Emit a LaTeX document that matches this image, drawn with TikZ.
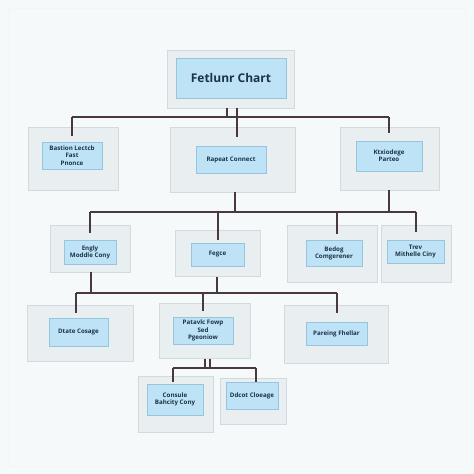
\documentclass[tikz,border=0pt]{standalone}
\usepackage{fontspec}
\setmainfont{Open Sans}
\definecolor{bgc}{HTML}{F6F9FA}
\definecolor{outfill}{HTML}{E9EEF1}
\definecolor{outdraw}{HTML}{D2DADF}
\definecolor{infill}{HTML}{BEE3F6}
\definecolor{indraw}{HTML}{96C6DD}
\definecolor{txt}{HTML}{1C3247}
\definecolor{wire}{HTML}{4A3840}
\tikzset{
  outerbox/.style={draw=outdraw, fill=outfill, line width=0.9pt, inner sep=0pt},
  innerbox/.style={draw=indraw, fill=infill, line width=0.7pt, inner sep=1pt, align=center,
     text=txt, font=\fontsize{6.2}{7.2}\selectfont\bfseries},
  wireline/.style={draw=wire, line width=1.3pt},
  thickwire/.style={draw=wire, line width=2.6pt}
}
\newcommand\boxpair[9]{%
  \node[outerbox, minimum width=#4pt, minimum height=#5pt] (#1o) at (#2,#3) {};
  \node[innerbox, minimum width=#8pt, minimum height=#9pt] (#1) at (#6,#7)}
\begin{document}
\begin{tikzpicture}[x=1pt,y=-1pt]
\useasboundingbox (0,0) rectangle (474,474);
\fill[bgc] (0,0) rectangle (474,474);
\draw[draw=white!92!gray, line width=0.8pt] (8,8) rectangle (466,466);
% top
\node[outerbox, minimum width=127pt, minimum height=58pt] (topo) at (230.5,79) {};
\node[innerbox, minimum width=110pt, minimum height=40pt, font=\fontsize{12}{14}\selectfont\bfseries] (top) at (231,78) {Fetlunr Chart};
% row 1
\boxpair{la}{73}{158.5}{90}{63}{72}{155.5}{60}{27}{Bastion Lectcb\\Fast\\Pnonce};
\boxpair{ma}{232.5}{159.5}{125}{65}{231}{159.5}{70}{27}{Rapeat Connect};
\boxpair{ra}{389.5}{158.5}{99}{63}{389}{156}{66}{30}{Ktxiodege\\Parteo};
% row 2
\boxpair{a}{90}{248.5}{80}{47}{90}{252}{52}{24}{Engly\\Moddle Cony};
\boxpair{b}{217.5}{253.5}{85}{46}{217.5}{254.5}{53}{23}{Fegce};
\boxpair{c}{332}{253.5}{90}{57}{334}{253.5}{56}{26}{Bedog\\Comgerener};
\boxpair{d}{416.5}{253.5}{70}{57}{415.5}{251.5}{57}{23}{Trev\\Mithelle Ciny};
% row 3
\boxpair{e}{80}{333}{106}{56}{78.5}{332}{59}{28}{Dtate Cosage};
\boxpair{f}{204.5}{331}{91}{55}{203}{330.5}{60}{27}{Patavlc Fowp\\Sed\\Pgeoniow};
\boxpair{g}{336}{334}{104}{58}{336.5}{333.5}{61}{23}{Pareing Fhellar};
% row 4
\boxpair{h}{175.5}{404}{75}{56}{175}{399.5}{56}{31}{Consule\\Bahcity Cony};
\boxpair{i}{253}{401}{66}{46}{252}{395.5}{52}{27}{Ddcot Cloeage};
% rails
\coordinate (r1) at (0,117);
\coordinate (r2) at (0,212);
\coordinate (r3) at (0,293);
\coordinate (r4) at (0,368);
% top -> row 1
\draw[wireline] (topo.south -| 227,0) -- (r1 -| 227,0);
\draw[wireline] (topo.south -| 237,0) -- (r1 -| 237,0);
\draw[wireline] (r1 -| 72,0) -- (r1 -| 389,0);
\draw[wireline] (r1 -| 72,0) -- ([yshift=-9pt]lao.north -| 72,0);
\draw[wireline] (r1 -| 237,0) -- ([yshift=-10pt]mao.north -| 237,0);
\draw[wireline] (r1 -| 389,0) -- ([yshift=-6pt]rao.north -| 389,0);
% row 1 -> row 2
\draw[thickwire] (mao.south -| 235,0) -- (r2 -| 235,0);
\draw[wireline] (rao.south -| 389,0) -- (r2 -| 389,0);
\draw[wireline] (r2 -| 90,0) -- (r2 -| 416,0);
\draw[wireline] (r2 -| 90,0) -- ([yshift=-8pt]ao.north -| 90,0);
\draw[wireline] (r2 -| 218,0) -- ([yshift=-10pt]bo.north -| 218,0);
\draw[wireline] (r2 -| 337,0) -- ([yshift=-9pt]co.north -| 337,0);
\draw[wireline] (r2 -| 416,0) -- ([yshift=-7pt]do.north -| 416,0);
% row 2 -> row 3
\draw[wireline] (ao.south -| 91,0) -- (r3 -| 91,0);
\draw[wireline] (bo.south -| 217,0) -- (r3 -| 217,0);
\draw[wireline] (r3 -| 76,0) -- (r3 -| 337,0);
\draw[wireline] (r3 -| 76,0) -- ([yshift=-8pt]eo.north -| 76,0);
\draw[wireline] (r3 -| 203,0) -- ([yshift=-8pt]fo.north -| 203,0);
\draw[wireline] (r3 -| 337,0) -- ([yshift=-8pt]go.north -| 337,0);
% row 3 -> row 4
\draw[wireline] (fo.south -| 205,0) -- (r4 -| 205,0);
\draw[wireline] (fo.south -| 210,0) -- (r4 -| 210,0);
\draw[wireline] (r4 -| 173,0) -- (r4 -| 256,0);
\draw[wireline] (r4 -| 173,0) -- ([yshift=-6pt]ho.north -| 173,0);
\draw[wireline] (r4 -| 256,0) -- ([yshift=-4pt]io.north -| 256,0);
\end{tikzpicture}
\end{document}
